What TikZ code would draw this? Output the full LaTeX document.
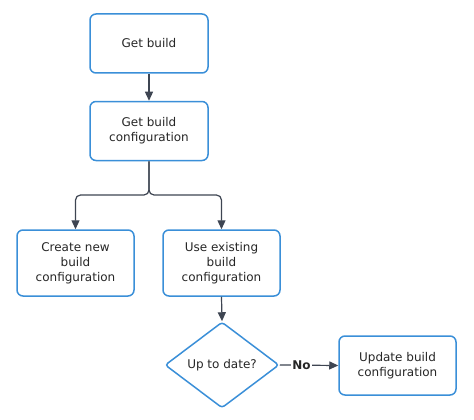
\documentclass[tikz,border=0pt]{standalone}
\usepackage{fontspec}
\setmainfont{DejaVu Sans}
\usetikzlibrary{shapes.geometric,arrows.meta,calc}
\definecolor{boxblue}{HTML}{3A8FD8}
\definecolor{linegray}{HTML}{3E4552}
\begin{document}
\begin{tikzpicture}[x=1pt,y=-1pt,
  box/.style={draw=boxblue,line width=1.5pt,rounded corners=6pt,fill=white,
    minimum width=118pt,minimum height=59pt,inner sep=0pt,align=center,
    font=\fontsize{12}{15}\selectfont,text=black!85},
  dec/.style={draw=boxblue,line width=1.5pt,diamond,rounded corners=3pt,fill=white,
    minimum width=114pt,minimum height=86pt,aspect=1.33,inner sep=0pt,align=center,
    font=\fontsize{12}{15}\selectfont,text=black!85},
  conn/.style={draw=linegray,line width=1.2pt,-{Triangle[length=9pt,width=8pt]}}]
\useasboundingbox (0,0) rectangle (474,420);
\node[box] (b1) at (149,43.5) {Get build};
\node[box] (b2) at (149,131) {Get build\\configuration};
\node[box,minimum width=117pt,minimum height=66pt] (b3) at (75.5,263) {Create new\\build\\configuration};
\node[box,minimum width=117pt,minimum height=66pt] (b4) at (221.5,263) {Use existing\\build\\configuration};
\node[dec] (d) at (222,365) {Up to date?};
\node[box,minimum width=117pt] (b5) at (397.5,365.5) {Update build\\configuration};
\coordinate (j) at (149,195);
\draw[conn] (b1) -- (b2);
\draw[conn,rounded corners=5pt] (b2.south) -- (j) -| (b3.north);
\draw[conn,rounded corners=5pt] (b2.south) -- (j) -| (b4.north);
\draw[conn] (b4.south) -- (d.north);
\draw[conn] (d.east) -- node[fill=white,inner sep=1pt,font=\fontsize{12}{15}\selectfont\bfseries,text=black!85,pos=0.37]{No} (b5.west);
\end{tikzpicture}
\end{document}
